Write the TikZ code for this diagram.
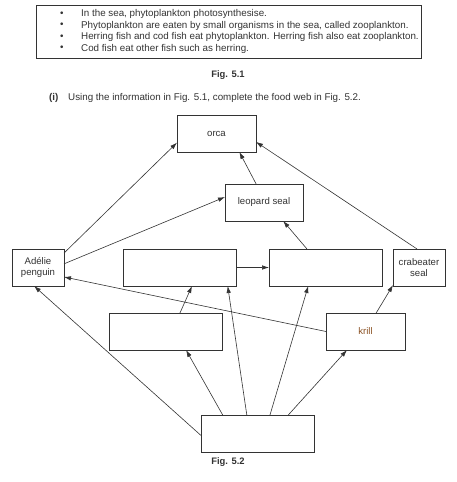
\documentclass[tikz,border=0pt]{standalone}
\usepackage{fontspec}
\setmainfont{Liberation Sans}
\usetikzlibrary{arrows.meta}
\definecolor{ink}{rgb}{0.2,0.2,0.2}
\definecolor{krillink}{rgb}{0.55,0.33,0.15}
\tikzset{
  organism/.style={draw=ink, line width=0.8pt, fill=white, inner sep=0pt, outer sep=0pt,
    minimum height=37pt, text=ink, align=center, font=\fontsize{9.6}{11.5}\selectfont},
  infotext/.style={anchor=west, inner sep=0pt, text=ink, font=\fontsize{9.8}{11.5}\selectfont},
  figlabel/.style={inner sep=0pt, text=ink, font=\fontsize{9.4}{11}\selectfont\bfseries},
  feeds/.style={draw=ink, line width=0.6pt, -{Latex[length=7pt,width=4.5pt]}},
}

\begin{document}
\begin{tikzpicture}[x=1pt,y=-1pt]
\useasboundingbox (0,0) rectangle (457,482);

% Fig. 5.1 information box
  \draw[ink, line width=0.8pt] (36,5) rectangle (421,58);
  \node[infotext] (bul1) at (60,14) {\textbullet};
  \node[infotext] (bul2) at (60,25.5) {\textbullet};
  \node[infotext] (bul3) at (60,37) {\textbullet};
  \node[infotext] (bul4) at (60,48.5) {\textbullet};
  \node[infotext] (info1) at (81,14) {In the sea, phytoplankton photosynthesise.};
  \node[infotext] (info2) at (81,25.5) {Phytoplankton are eaten by small organisms in the sea, called zooplankton.};
  \node[infotext] (info3) at (81,37) {Herring fish and cod fish eat phytoplankton. Herring fish also eat zooplankton.};
  \node[infotext] (info4) at (81,48.5) {Cod fish eat other fish such as herring.};

  \node[figlabel] (fig1) at (228,75) {Fig. 5.1};

% question
  \node[infotext, font=\fontsize{9.8}{11.5}\selectfont\bfseries] (qnum) at (49,98) {(i)};
  \node[infotext] (qtext) at (68,98) {Using the information in Fig. 5.1, complete the food web in Fig. 5.2.};

% Fig. 5.2 food web
  \node[organism, minimum width=79pt] (orca) at (216.5,133.5) {orca};
  \node[organism, minimum width=78pt] (leopard) at (264,202.5) {leopard seal};
  \node[organism, minimum width=52pt] (adelie) at (38,267.5) {Adélie\\penguin};
  \node[organism, minimum width=113pt] (blankA) at (179.5,267.5) {};
  \node[organism, minimum width=113pt] (blankB) at (325.5,267.5) {};
  \node[organism, minimum width=52pt] (crabeater) at (419,267.5) {crabeater\\seal};
  \node[organism, minimum width=113pt] (blankC) at (165.5,331.5) {};
  \node[organism, minimum width=79pt, text=krillink] (krill) at (365.5,331.5) {krill};
  \node[organism, minimum width=113pt] (producer) at (257.5,433.5) {};

  % top of the web
  \draw[feeds] (adelie.29) -- (orca.193);
  \draw[feeds] (adelie.8) -- (leopard.172);
  \draw[feeds] (leopard.113) -- (orca.321);
  \draw[feeds] (blankB.135) -- (leopard.316);
  \draw[feeds] (crabeater.96) -- (orca.348);
  \draw[feeds] (blankA.east) -- (blankB.west);

  % middle
  \draw[feeds] (krill.west) -- (adelie.340);
  \draw[feeds] (blankC.52) -- (blankA.304);
  \draw[feeds] (krill.60) -- (crabeater.214);

  % from the bottom box
  \draw[feeds] (producer.182) -- (adelie.258);
  \draw[feeds] (producer.152) -- (blankC.318);
  \draw[feeds] (producer.120) -- (blankA.339);
  \draw[feeds] (producer.56) -- (blankB.227);
  \draw[feeds] (producer.31) -- (krill.225);

  \node[figlabel] (fig2) at (228,462) {Fig. 5.2};

\end{tikzpicture}
\end{document}
